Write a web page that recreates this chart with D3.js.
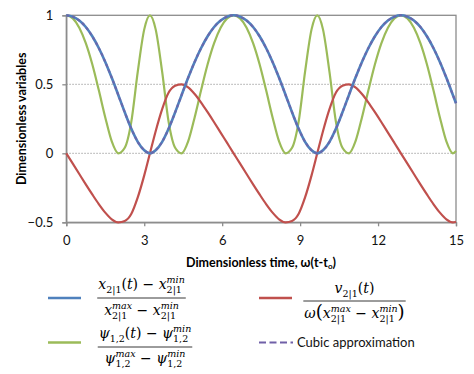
<!DOCTYPE html>
<html>
<head>
<meta charset="utf-8">
<script src="https://cdn.jsdelivr.net/npm/d3@7"></script>
<style>
  body { margin: 0; background: #fff; }
  svg { display: block; font-family: Lato, "Open Sans", sans-serif; }
</style>
</head>
<body>
<svg id="chart" width="474" height="374"></svg>
<script>
// data
const time = [0, 0.25, 0.5, 0.75, 1, 1.25, 1.5, 1.75, 2, 2.25, 2.5, 2.75, 3, 3.22,
  3.44, 3.69, 3.94, 4.19, 4.44, 4.69, 4.94, 5.19, 5.44, 5.69, 5.94, 6.19, 6.44,
  6.69, 6.94, 7.19, 7.44, 7.69, 7.94, 8.19, 8.44, 8.69, 8.94, 9.19, 9.44, 9.66,
  9.88, 10.13, 10.38, 10.63, 10.88, 11.13, 11.38, 11.63, 11.88, 12.13, 12.38, 12.63, 12.88,
  13.13, 13.38, 13.63, 13.88, 14.13, 14.38, 14.63, 14.88, 15];

const position = [1, 0.99, 0.962, 0.915, 0.848, 0.763, 0.662, 0.547, 0.423, 0.297, 0.179, 0.083, 0.022, 0,
  0.022, 0.083, 0.179, 0.297, 0.423, 0.547, 0.662, 0.763, 0.848, 0.915, 0.962, 0.99, 1,
  0.99, 0.962, 0.915, 0.848, 0.763, 0.662, 0.547, 0.423, 0.297, 0.179, 0.083, 0.022, 0,
  0.022, 0.083, 0.179, 0.297, 0.423, 0.547, 0.662, 0.763, 0.848, 0.915, 0.962, 0.99, 1,
  0.99, 0.962, 0.915, 0.848, 0.763, 0.662, 0.547, 0.423, 0.363];

const velocity = [0, -0.075, -0.15, -0.225, -0.298, -0.368, -0.43, -0.478, -0.5, -0.49, -0.44, -0.32, -0.16, 0,
  0.16, 0.32, 0.44, 0.49, 0.5, 0.478, 0.43, 0.368, 0.298, 0.225, 0.15, 0.075, 0,
  -0.075, -0.15, -0.225, -0.298, -0.368, -0.43, -0.478, -0.5, -0.49, -0.44, -0.32, -0.16, 0,
  0.16, 0.32, 0.44, 0.49, 0.5, 0.478, 0.43, 0.368, 0.298, 0.225, 0.15, 0.075, 0,
  -0.075, -0.15, -0.225, -0.298, -0.368, -0.43, -0.478, -0.5, -0.496];

const psi = [1, 0.978, 0.91, 0.798, 0.645, 0.458, 0.26, 0.086, 0, 0.04, 0.226, 0.59, 0.898, 1,
  0.898, 0.59, 0.226, 0.04, 0, 0.086, 0.26, 0.458, 0.645, 0.798, 0.91, 0.978, 1,
  0.978, 0.91, 0.798, 0.645, 0.458, 0.26, 0.086, 0, 0.04, 0.226, 0.59, 0.898, 1,
  0.898, 0.59, 0.226, 0.04, 0, 0.086, 0.26, 0.458, 0.645, 0.798, 0.91, 0.978, 1,
  0.978, 0.91, 0.798, 0.645, 0.458, 0.26, 0.086, 0, 0.016];

// the dashed cubic fit sits right on top of the position curve
const cubicApprox = position;

const xTicks = [0, 3, 6, 9, 12, 15];
const yTicks = [-0.5, 0, 0.5, 1];
const gridValues = [0, 0.5];

const blue = "#4f81bd", red = "#c0504d", green = "#9bbb59", purple = "#7060a8";
const frameColor = "#8c8c8c";

const svg = d3.select("#chart");

const x = d3.scaleLinear().domain([0, 15]).range([66.3, 456]);
const y = d3.scaleLinear().domain([-0.5, 1]).range([222.3, 15.3]);

// dotted gridlines
svg.append("g")
  .selectAll("line")
  .data(gridValues)
  .join("line")
  .attr("x1", x(0)).attr("x2", x(15))
  .attr("y1", d => y(d)).attr("y2", d => y(d))
  .attr("stroke", "#a6a6a6")
  .attr("stroke-dasharray", "1.5,1.5");

// plot frame
svg.append("rect")
  .attr("x", x(0)).attr("y", y(1))
  .attr("width", x(15) - x(0)).attr("height", y(-0.5) - y(1))
  .attr("fill", "none")
  .attr("stroke", frameColor)
  .attr("stroke-width", 1.3);

// axes
const xAxis = svg.append("g")
  .attr("transform", `translate(0,${y(-0.5)})`)
  .call(d3.axisBottom(x).tickValues(xTicks).tickSize(4).tickPadding(9));

const yAxis = svg.append("g")
  .attr("transform", `translate(${x(0)},0)`)
  .call(d3.axisLeft(y).tickValues(yTicks).tickSize(4).tickPadding(9).tickFormat(d3.format("")));

[xAxis, yAxis].forEach(a => {
  a.select(".domain").attr("stroke", frameColor).attr("stroke-width", 1.3);
  a.selectAll(".tick line").attr("stroke", frameColor).attr("stroke-width", 1.3);
  a.selectAll(".tick text").attr("fill", "#111").attr("font-size", 13)
    .attr("font-family", "Lato, sans-serif");
});

// curves
const line = (vals) => d3.line()
  .x((d, i) => x(time[i]))
  .y(d => y(d))
  .curve(d3.curveMonotoneX)(vals);

svg.append("path").attr("d", line(psi))
  .attr("fill", "none").attr("stroke", green).attr("stroke-width", 2.2);
svg.append("path").attr("d", line(velocity))
  .attr("fill", "none").attr("stroke", red).attr("stroke-width", 2.2);
svg.append("path").attr("d", line(position))
  .attr("fill", "none").attr("stroke", blue).attr("stroke-width", 2.6);
svg.append("path").attr("d", line(cubicApprox))
  .attr("fill", "none").attr("stroke", purple).attr("stroke-width", 2.2)
  .attr("stroke-dasharray", "3,3").attr("opacity", 0.75);

// axis titles
svg.append("text")
  .attr("x", 261).attr("y", 267)
  .attr("text-anchor", "middle")
  .attr("font-weight", 700).attr("font-size", 12.5)
  .text("Dimensionless time, ω(t-t")
  .append("tspan").attr("font-size", 8).attr("dy", 2).text("o")
  .select(function() { return this.parentNode; })
  .append("tspan").attr("dy", -2).text(")");

svg.append("text")
  .attr("transform", `translate(26,${(y(1) + y(-0.5)) / 2}) rotate(-90)`)
  .attr("text-anchor", "middle")
  .attr("font-weight", 700).attr("font-size", 12.5)
  .text("Dimensionless variables");

///
/// LEGEND
///

const mathFont = "'DejaVu Serif', 'Liberation Serif', serif";

// lays out a row of symbols with stacked sub/superscripts, returns its width
function mathRow(g, tokens, fs) {
  let cx = 0;
  tokens.forEach(tok => {
    const size = fs * (tok.big || 1);
    const main = g.append("text")
      .attr("x", cx).attr("y", 0)
      .attr("font-family", mathFont)
      .attr("font-size", size)
      .attr("font-style", tok.up ? "normal" : "italic")
      .attr("xml:space", "preserve")
      .text(tok.t);
    cx += main.node().getComputedTextLength();
    let w = 0;
    if (tok.sub) {
      const s = g.append("text")
        .attr("x", cx).attr("y", fs * 0.3)
        .attr("font-family", mathFont).attr("font-size", fs * 0.68)
        .text(tok.sub);
      w = Math.max(w, s.node().getComputedTextLength());
    }
    if (tok.sup) {
      const s = g.append("text")
        .attr("x", cx).attr("y", -fs * 0.45)
        .attr("font-family", mathFont).attr("font-size", fs * 0.68)
        .attr("font-style", "italic")
        .text(tok.sup);
      w = Math.max(w, s.node().getComputedTextLength());
    }
    cx += w;
  });
  return cx;
}

function fraction(cx, barY, num, den, fs, numGap, denGap) {
  const gn = svg.append("g");
  const wn = mathRow(gn, num, fs);
  gn.attr("transform", `translate(${cx - wn / 2},${barY - numGap})`);
  const gd = svg.append("g");
  const wd = mathRow(gd, den, fs);
  gd.attr("transform", `translate(${cx - wd / 2},${barY + denGap})`);
  const w = Math.max(wn, wd) + 2;
  svg.append("line")
    .attr("x1", cx - w / 2).attr("x2", cx + w / 2)
    .attr("y1", barY).attr("y2", barY)
    .attr("stroke", "#222").attr("stroke-width", 0.9);
}

const minus = { t: " − ", up: true };
const tArg = [{ t: "(", up: true }, { t: "t" }, { t: ")", up: true }];

const legendItems = [
  { color: blue, x0: 48, y0: 298,
    num: [{ t: "x", sub: "2|1" }, ...tArg, minus, { t: "x", sub: "2|1", sup: "min" }],
    den: [{ t: "x", sub: "2|1", sup: "max" }, minus, { t: "x", sub: "2|1", sup: "min" }],
    cx: 141.5, numGap: 9, denGap: 17 },
  { color: green, x0: 48, y0: 342.5,
    num: [{ t: "ψ", sub: "1,2" }, ...tArg, minus, { t: "ψ", sub: "1,2", sup: "min" }],
    den: [{ t: "ψ", sub: "1,2", sup: "max" }, minus, { t: "ψ", sub: "1,2", sup: "min" }],
    cx: 145, barY: 347, numGap: 9, denGap: 16 },
  { color: red, x0: 259, y0: 298,
    num: [{ t: "v", sub: "2|1" }, ...tArg],
    den: [{ t: "ω" }, { t: "(", up: true, big: 1.3 }, { t: "x", sub: "2|1", sup: "max" }, minus,
          { t: "x", sub: "2|1", sup: "min" }, { t: ")", up: true, big: 1.3 }],
    cx: 354.5, barY: 301, numGap: 8, denGap: 17 }
];

legendItems.forEach(d => {
  svg.append("line")
    .attr("x1", d.x0).attr("x2", d.x0 + 33)
    .attr("y1", d.y0).attr("y2", d.y0)
    .attr("stroke", d.color).attr("stroke-width", 2.4);
  fraction(d.cx, d.barY || d.y0, d.num, d.den, 14, d.numGap, d.denGap);
});

// cubic approximation key
svg.append("line")
  .attr("x1", 259).attr("x2", 293)
  .attr("y1", 342.5).attr("y2", 342.5)
  .attr("stroke", purple).attr("stroke-width", 2.2)
  .attr("stroke-dasharray", "7,3.5");
svg.append("text")
  .attr("x", 297).attr("y", 347)
  .attr("font-size", 13)
  .attr("fill", "#111")
  .text("Cubic approximation");
</script>
</body>
</html>
